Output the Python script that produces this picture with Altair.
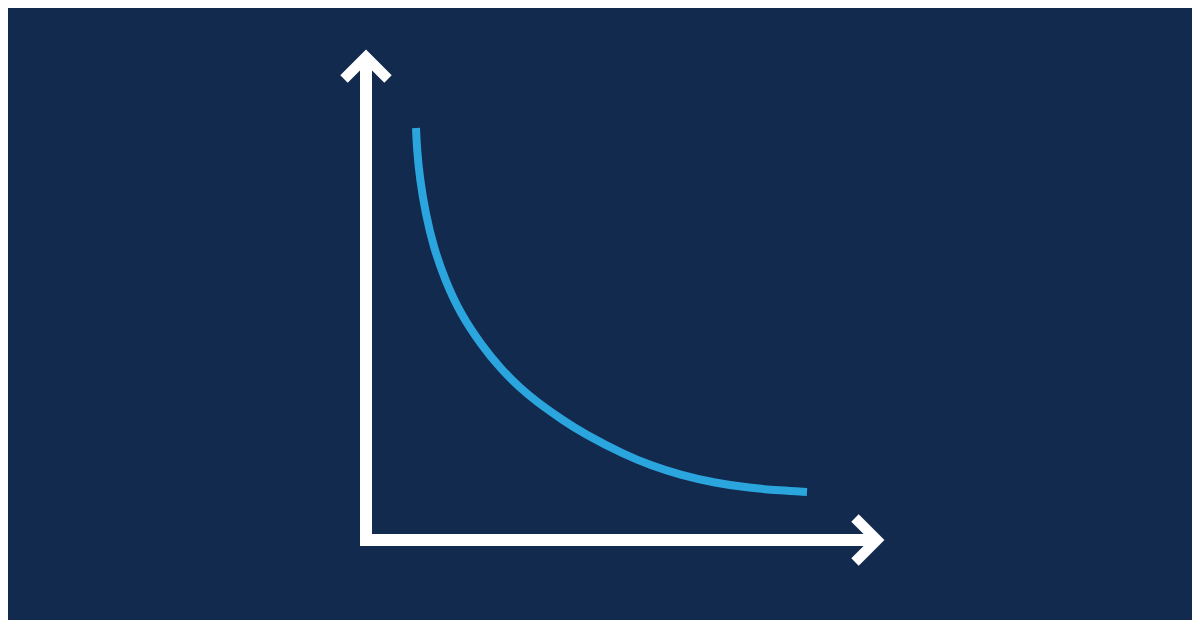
import altair as alt
import pandas as pd

# Decay curve (time vs. value)
curve_t = [1.00, 1.02, 1.08, 1.19, 1.35, 1.58, 1.88, 2.32, 2.70, 3.08, 3.42, 3.96, 4.34, 5.18, 5.68, 6.28, 6.98, 7.68, 8.28, 8.82]
curve_v = [8.24, 7.80, 7.20, 6.54, 5.86, 5.20, 4.54, 3.88, 3.42, 3.04, 2.76, 2.38, 2.14, 1.70, 1.50, 1.30, 1.14, 1.04, 0.99, 0.96]

# Axis frame (y axis top -> origin -> x axis end)
frame_x = [0.0, 0.0, 10.22]
frame_y = [9.66, 0.0, 0.0]

# Arrowheads
arrow_id = ["up", "up", "up", "right", "right", "right"]
arrow_x = [-0.44, 0.0, 0.44, 9.78, 10.22, 9.78]
arrow_y = [9.22, 9.66, 9.22, 0.44, 0.0, -0.44]

BG = "#132a4f"
BLUE = "#2aa5de"
WHITE = "#ffffff"

xs = alt.Scale(domain=[-7.16, 16.52], nice=False, zero=False)
ys = alt.Scale(domain=[-1.6, 10.64], nice=False, zero=False)

curve_df = pd.DataFrame({"t": curve_t, "v": curve_v, "seq": range(len(curve_t))})
frame_df = pd.DataFrame({"x": frame_x, "y": frame_y, "seq": range(len(frame_x))})
arrow_df = pd.DataFrame({"id": arrow_id, "x": arrow_x, "y": arrow_y, "seq": [0, 1, 2, 0, 1, 2]})

frame = alt.Chart(frame_df).mark_line(
    color=WHITE, strokeWidth=12, strokeJoin="miter", strokeCap="butt"
).encode(
    x=alt.X("x:Q", scale=xs, axis=None),
    y=alt.Y("y:Q", scale=ys, axis=None),
    order="seq:O",
)

arrows = alt.Chart(arrow_df).mark_line(
    color=WHITE, strokeWidth=10.5, strokeJoin="miter", strokeCap="butt"
).encode(
    x=alt.X("x:Q", scale=xs, axis=None),
    y=alt.Y("y:Q", scale=ys, axis=None),
    detail="id:N",
    order="seq:O",
)

curve = alt.Chart(curve_df).mark_line(
    color=BLUE, strokeWidth=8, strokeCap="butt", interpolate="basis"
).encode(
    x=alt.X("t:Q", scale=xs, axis=None),
    y=alt.Y("v:Q", scale=ys, axis=None),
    order="seq:O",
)

chart = alt.layer(frame, arrows, curve).properties(
    width=1184,
    height=612,
    padding=0,
    background=BG,
    autosize=alt.AutoSizeParams(type="fit", contains="padding"),
).configure_view(stroke=None)

chart.save("out.html", embed_options={"renderer": "svg", "actions": False})
